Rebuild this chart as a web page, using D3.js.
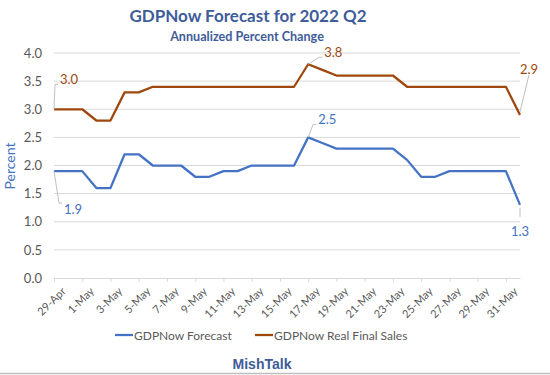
<!DOCTYPE html>
<html>
<head>
<meta charset="utf-8">
<script src="https://cdn.jsdelivr.net/npm/d3@7"></script>
<style>
body { margin: 0; background: #fff; }
text { font-family: Lato, "Open Sans", sans-serif; }
</style>
</head>
<body>
<div id="chart"></div>
<script>
var w = 550,
    h = 375;

// data, one value per day from 29-Apr to 1-Jun
var days = ["29-Apr", "30-Apr", "1-May", "2-May", "3-May", "4-May", "5-May", "6-May",
    "7-May", "8-May", "9-May", "10-May", "11-May", "12-May", "13-May", "14-May",
    "15-May", "16-May", "17-May", "18-May", "19-May", "20-May", "21-May", "22-May",
    "23-May", "24-May", "25-May", "26-May", "27-May", "28-May", "29-May", "30-May",
    "31-May", "1-Jun"];
var forecast = [1.9, 1.9, 1.9, 1.6, 1.6, 2.2, 2.2, 2.0, 2.0, 2.0, 1.8, 1.8, 1.9, 1.9,
    2.0, 2.0, 2.0, 2.0, 2.5, 2.4, 2.3, 2.3, 2.3, 2.3, 2.3, 2.1, 1.8, 1.8, 1.9, 1.9,
    1.9, 1.9, 1.9, 1.3];
var finalSales = [3.0, 3.0, 3.0, 2.8, 2.8, 3.3, 3.3, 3.4, 3.4, 3.4, 3.4, 3.4, 3.4, 3.4,
    3.4, 3.4, 3.4, 3.4, 3.8, 3.7, 3.6, 3.6, 3.6, 3.6, 3.6, 3.4, 3.4, 3.4, 3.4, 3.4,
    3.4, 3.4, 3.4, 2.9];
var yTicks = [0, 0.5, 1, 1.5, 2, 2.5, 3, 3.5, 4];
var xTickLabels = days.filter(function(d, i) { return i % 2 == 0 && i < 33; });

var blue = "#4472C4",
    brown = "#9E480E";

var svg = d3.select("#chart")
    .append("svg")
    .attr("width", w)
    .attr("height", h);

var x = d3.scalePoint().domain(days).range([54, 520]);
var y = d3.scaleLinear().domain([0, 4]).range([278, 53]);

// titles
svg.append("text")
    .attr("x", 248).attr("y", 22)
    .attr("text-anchor", "middle")
    .attr("font-size", "17px")
    .attr("font-weight", "bold")
    .attr("fill", "#3E5C9A")
    .text("GDPNow Forecast for 2022 Q2");

svg.append("text")
    .attr("x", 247).attr("y", 41)
    .attr("text-anchor", "middle")
    .attr("font-size", "12.6px")
    .attr("font-weight", "bold")
    .attr("fill", "#3E5C9A")
    .text("Annualized Percent Change");

// gridlines
svg.selectAll(".grid")
    .data(yTicks.slice(1))
    .enter()
    .append("line")
    .attr("class", "grid")
    .attr("x1", 54).attr("x2", 520)
    .attr("y1", function(d) { return y(d); })
    .attr("y2", function(d) { return y(d); })
    .attr("stroke", "#D9D9D9")
    .attr("stroke-width", 1);

// y axis
var yAxis = svg.append("g")
    .attr("transform", "translate(54,0)")
    .call(d3.axisLeft(y).tickValues(yTicks).tickFormat(d3.format(".1f")).tickSize(0).tickPadding(12));
yAxis.select(".domain").remove();
yAxis.selectAll("text")
    .attr("font-size", "13px")
    .attr("fill", "#595959")
    .style("font-family", "Lato, sans-serif");

svg.append("text")
    .attr("transform", "translate(15,166) rotate(-90)")
    .attr("text-anchor", "middle")
    .attr("font-size", "14px")
    .attr("fill", blue)
    .text("Percent");

// x axis
var xAxis = svg.append("g")
    .attr("transform", "translate(0," + y(0) + ")")
    .call(d3.axisBottom(x).tickValues(xTickLabels).tickSize(4).tickSizeOuter(0));
xAxis.select(".domain").attr("stroke", "#D9D9D9");
xAxis.selectAll(".tick line").attr("stroke", "#D9D9D9");
xAxis.selectAll("text")
    .attr("font-size", "11px")
    .attr("fill", "#595959")
    .style("font-family", "Lato, sans-serif")
    .attr("text-anchor", "end")
    .attr("dy", "0.35em")
    .attr("transform", "translate(5,7) rotate(-45)")
    .attr("x", 0).attr("y", 6);

// lines
var line = function(vals) {
    return d3.line()
        .x(function(d, i) { return x(days[i]); })
        .y(function(d) { return y(d); })(vals);
};

svg.append("path")
    .attr("d", line(forecast))
    .attr("fill", "none")
    .attr("stroke", blue)
    .attr("stroke-width", 2.25)
    .attr("stroke-linejoin", "round");

svg.append("path")
    .attr("d", line(finalSales))
    .attr("fill", "none")
    .attr("stroke", brown)
    .attr("stroke-width", 2.25)
    .attr("stroke-linejoin", "round");

// data labels with leader lines
var labels = [
    { day: "29-Apr", v: finalSales[0], dx: 16, dy: -30, col: brown },
    { day: "29-Apr", v: forecast[0], dx: 20, dy: 38, col: blue },
    { day: "17-May", v: finalSales[18], dx: 26, dy: -12, col: brown },
    { day: "17-May", v: forecast[18], dx: 20, dy: -18, col: blue },
    { day: "1-Jun", v: finalSales[33], dx: 9, dy: -46, col: brown },
    { day: "1-Jun", v: forecast[33], dx: 0, dy: 26, col: blue }
];

labels.forEach(function(l) {
    var px = x(l.day), py = y(l.v);
    var lx = px + l.dx, ly = py + l.dy;
    var ex = lx - (l.dx > 10 ? 12 : 0);
    var ey = ly + (l.dy < 0 ? 5 : -6);
    if (l.dx > 10) {
        svg.append("polyline")
            .attr("points", [[px, py], [ex - 3, ey], [ex, ey]].join(" "))
            .attr("fill", "none")
            .attr("stroke", "#BFBFBF")
            .attr("stroke-width", 1);
    } else {
        svg.append("line")
            .attr("x1", px).attr("y1", py + (l.dy < 0 ? -3 : 3))
            .attr("x2", px + l.dx).attr("y2", ly + (l.dy < 0 ? 6 : -14))
            .attr("stroke", "#BFBFBF")
            .attr("stroke-width", 1);
    }
    svg.append("text")
        .attr("x", l.dx > 10 ? ex + 2 : lx)
        .attr("y", ly + 5)
        .attr("text-anchor", l.dx > 10 ? "start" : "middle")
        .attr("font-size", "13px")
        .attr("fill", l.col)
        .text(d3.format(".1f")(l.v));
});

// legend
var legend = [
    { name: "GDPNow Forecast", col: blue, x: 115 },
    { name: "GDPNow Real Final Sales", col: brown, x: 255 }
];
legend.forEach(function(d) {
    svg.append("line")
        .attr("x1", d.x).attr("x2", d.x + 18)
        .attr("y1", 335).attr("y2", 335)
        .attr("stroke", d.col)
        .attr("stroke-width", 2.25);
    svg.append("text")
        .attr("x", d.x + 19).attr("y", 339.5)
        .attr("font-size", "12px")
        .attr("fill", "#595959")
        .text(d.name);
});

svg.append("text")
    .attr("x", 262).attr("y", 369)
    .attr("text-anchor", "middle")
    .attr("font-size", "14px")
    .attr("font-weight", "bold")
    .attr("fill", "#3E5C9A")
    .style("font-family", "'Liberation Sans', Arial, sans-serif")
    .text("MishTalk");

// bottom border
svg.append("line")
    .attr("x1", 0).attr("x2", w)
    .attr("y1", 373.5).attr("y2", 373.5)
    .attr("stroke", "#BFBFBF")
    .attr("stroke-width", 1.5);
</script>
</body>
</html>
